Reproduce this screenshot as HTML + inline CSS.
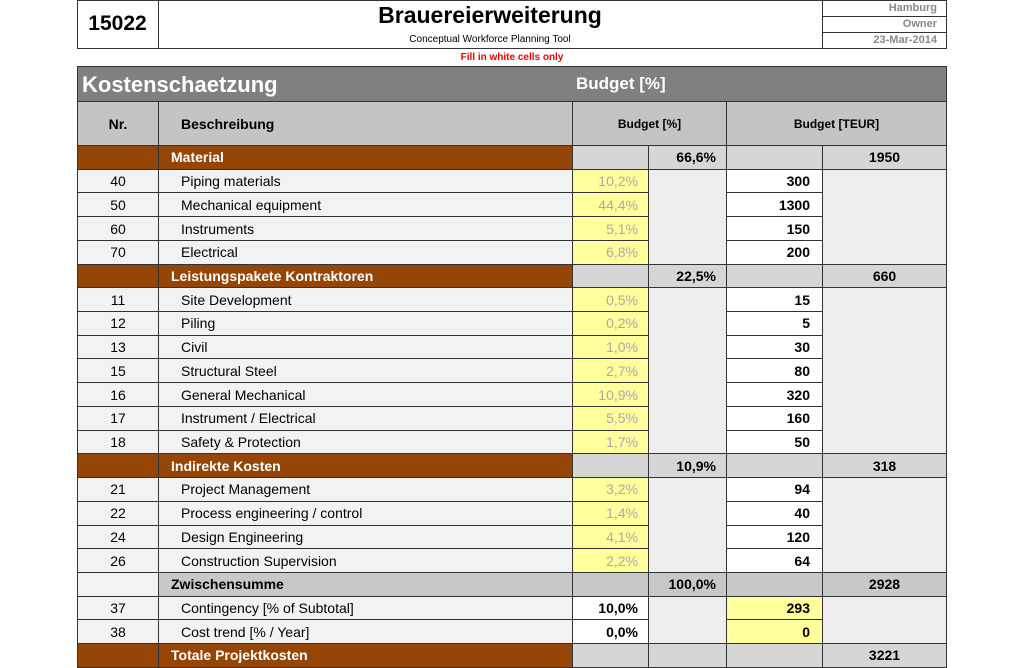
<!DOCTYPE html>
<html><head><meta charset="utf-8"><style>
body{margin:0;width:1024px;height:667px;background:#fff;font-family:"Liberation Sans",Arial,sans-serif;position:relative;overflow:hidden}
.a{position:absolute;box-sizing:border-box}
table{position:absolute;left:77px;top:101px;border-collapse:collapse;table-layout:fixed}
td{border:1.5px solid #333;padding:0;font-size:14px;height:23.73px;box-sizing:border-box;white-space:nowrap;overflow:hidden}
.n{background:#f2f2f2;text-align:center}
.d{background:#f2f2f2;padding-left:22px}
.y{background:#ffff9c;color:#aaa;text-align:right;padding-right:10px}
.g{background:#eeeeee}
.w{background:#fff;font-weight:bold;text-align:right;padding-right:12px}
.br{background:#954606;color:#fff;font-weight:bold;padding-left:12px}
.lg{background:#d6d6d6;font-weight:bold;text-align:right;padding-right:10px}
.lgc{background:#d6d6d6;font-weight:bold;text-align:center}
.zs{background:#c8c8c8;font-weight:bold}
</style></head><body>
<div class="a" style="left:77px;top:0;width:870px;height:49px;border:1.5px solid #333"></div>
<div class="a" style="left:77px;top:0;width:82px;height:49px;border-right:1.5px solid #333;font-size:21px;font-weight:bold;text-align:center;line-height:48px">15022</div>
<div class="a" style="left:158px;top:2px;width:664px;text-align:center;font-size:23px;font-weight:bold">Brauereierweiterung</div>
<div class="a" style="left:158px;top:34px;width:664px;text-align:center;font-size:10px">Conceptual Workforce Planning Tool</div>
<div class="a" style="left:822px;top:0;width:125px;height:49px;border-left:1.5px solid #333"></div>
<div class="a" style="left:822px;top:0;width:125px;height:17px;border-bottom:1.5px solid #333;font-size:11px;font-weight:bold;color:#888;text-align:right;padding-right:10px;line-height:17px">Hamburg</div>
<div class="a" style="left:822px;top:16px;width:125px;height:17px;border-bottom:1.5px solid #333;font-size:11px;font-weight:bold;color:#888;text-align:right;padding-right:10px;line-height:17px">Owner</div>
<div class="a" style="left:822px;top:32px;width:125px;height:17px;font-size:11px;font-weight:bold;color:#888;text-align:right;padding-right:10px;line-height:17px">23-Mar-2014</div>
<div class="a" style="left:77px;top:48px;width:870px;height:19px;text-align:center;color:#e00;font-size:10px;font-weight:bold;line-height:19px">Fill in white cells only</div>
<div class="a" style="left:77px;top:66px;width:870px;height:36px;background:#808080;border:1.5px solid #333;color:#fff;font-weight:bold"><span style="position:absolute;left:4px;top:5px;font-size:22px">Kostenschaetzung</span><span style="position:absolute;left:498px;top:7px;font-size:17px">Budget [%]</span></div>
<table>
<colgroup><col style="width:81px"><col style="width:414px"><col style="width:76px"><col style="width:78px"><col style="width:96px"><col style="width:124px"></colgroup>
<tr style="background:#c4c4c4;font-weight:bold"><td style="height:44px;text-align:center;font-weight:bold">Nr.</td><td style="padding-left:22px;font-weight:bold">Beschreibung</td><td colspan="2" style="text-align:center;font-size:12px;font-weight:bold">Budget [%]</td><td colspan="2" style="text-align:center;font-size:12px;font-weight:bold">Budget [TEUR]</td></tr>
<tr><td class="br"></td><td class="br">Material</td><td class="lg"></td><td class="lg">66,6%</td><td class="lg"></td><td class="lgc">1950</td></tr>
<tr><td class="n">40</td><td class="d">Piping materials</td><td class="y">10,2%</td><td class="g" rowspan="4"></td><td class="w">300</td><td class="g" rowspan="4"></td></tr>
<tr><td class="n">50</td><td class="d">Mechanical equipment</td><td class="y">44,4%</td><td class="w">1300</td></tr>
<tr><td class="n">60</td><td class="d">Instruments</td><td class="y">5,1%</td><td class="w">150</td></tr>
<tr><td class="n">70</td><td class="d">Electrical</td><td class="y">6,8%</td><td class="w">200</td></tr>
<tr><td class="br"></td><td class="br">Leistungspakete Kontraktoren</td><td class="lg"></td><td class="lg">22,5%</td><td class="lg"></td><td class="lgc">660</td></tr>
<tr><td class="n">11</td><td class="d">Site Development</td><td class="y">0,5%</td><td class="g" rowspan="7"></td><td class="w">15</td><td class="g" rowspan="7"></td></tr>
<tr><td class="n">12</td><td class="d">Piling</td><td class="y">0,2%</td><td class="w">5</td></tr>
<tr><td class="n">13</td><td class="d">Civil</td><td class="y">1,0%</td><td class="w">30</td></tr>
<tr><td class="n">15</td><td class="d">Structural Steel</td><td class="y">2,7%</td><td class="w">80</td></tr>
<tr><td class="n">16</td><td class="d">General Mechanical</td><td class="y">10,9%</td><td class="w">320</td></tr>
<tr><td class="n">17</td><td class="d">Instrument / Electrical</td><td class="y">5,5%</td><td class="w">160</td></tr>
<tr><td class="n">18</td><td class="d">Safety &amp; Protection</td><td class="y">1,7%</td><td class="w">50</td></tr>
<tr><td class="br"></td><td class="br">Indirekte Kosten</td><td class="lg"></td><td class="lg">10,9%</td><td class="lg"></td><td class="lgc">318</td></tr>
<tr><td class="n">21</td><td class="d">Project Management</td><td class="y">3,2%</td><td class="g" rowspan="4"></td><td class="w">94</td><td class="g" rowspan="4"></td></tr>
<tr><td class="n">22</td><td class="d">Process engineering / control</td><td class="y">1,4%</td><td class="w">40</td></tr>
<tr><td class="n">24</td><td class="d">Design Engineering</td><td class="y">4,1%</td><td class="w">120</td></tr>
<tr><td class="n">26</td><td class="d">Construction Supervision</td><td class="y">2,2%</td><td class="w">64</td></tr>
<tr><td class="n"></td><td class="zs" style="padding-left:12px">Zwischensumme</td><td class="zs"></td><td class="zs" style="text-align:right;padding-right:10px">100,0%</td><td class="zs"></td><td class="zs" style="text-align:center">2928</td></tr>
<tr><td class="n">37</td><td class="d">Contingency [% of Subtotal]</td><td class="w" style="padding-right:10px">10,0%</td><td class="g" rowspan="2"></td><td class="w" style="background:#ffff9c">293</td><td class="g" rowspan="2"></td></tr>
<tr><td class="n">38</td><td class="d">Cost trend [% / Year]</td><td class="w" style="padding-right:10px">0,0%</td><td class="w" style="background:#ffff9c">0</td></tr>
<tr><td class="br"></td><td class="br">Totale Projektkosten</td><td class="lg"></td><td class="lg"></td><td class="lg"></td><td class="lgc">3221</td></tr>
</table>
</body></html>
